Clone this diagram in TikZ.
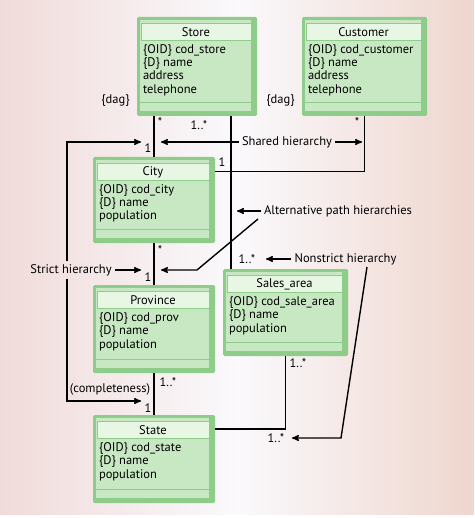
\documentclass[tikz,border=0pt]{standalone}
\usepackage{fontspec}
\setmainfont{PT Sans}
\usetikzlibrary{arrows,positioning,calc}
\definecolor{clsdark}{HTML}{8ECC8A}
\definecolor{clsbody}{HTML}{C8E8C3}
\definecolor{clstitle}{HTML}{E8F6E4}
\definecolor{bgleft}{HTML}{F0DBD9}
\definecolor{bgmid}{HTML}{FAF9FC}
\definecolor{bgright}{HTML}{EFD6CE}

% #1 name, #2 #3 centre, #4 width, #5 height, #6 title, #7 attributes
\newcommand{\umlclass}[7]{%
  \node[clsouter, minimum width=#4pt, minimum height=#5pt] (#1) at (#2,#3) {};
  \fill[clsbody] ($(#1.north west)+(3,3)$) rectangle ($(#1.south east)+(-6,-5)$);
  \node[clshead, minimum width=#4pt-10pt] (#1-head) at ($(#1.north)+(-1,15.5)$) {#6};
  \node[clsattr] (#1-attr) at ($(#1.north west)+(6,27.5)$) {#7};
  \draw[clsdark, line width=1.2pt] ($(#1.south west)+(3,-14)$) -- ($(#1.south east)+(-6,-14)$);
}

\begin{document}
\begin{tikzpicture}[x=1pt, y=-1pt, >=stealth', font=\fontsize{12.5}{13.3}\selectfont]
\tikzstyle{clsouter}=[fill=clsdark, rounded corners=1.5pt, inner sep=0pt]
\tikzstyle{clshead}=[fill=clstitle, draw=clsdark, line width=1pt, minimum height=17pt, inner sep=0pt]
\tikzstyle{clsattr}=[anchor=north west, align=left, inner sep=0pt]
\tikzstyle{mult}=[inner sep=1pt, font=\fontsize{12.3}{12}\selectfont]
\tikzstyle{lbl}=[inner sep=3pt]
\tikzstyle{assoc}=[-, line width=1.4pt]
\tikzstyle{hint}=[->, line width=1.4pt]

\useasboundingbox (0,0) rectangle (474,518);
\fill[white] (0,0) rectangle (474,518);
\shade[left color=bgleft, right color=bgmid] (0,0) rectangle (237,514);
\shade[left color=bgmid, right color=bgright] (237,0) rectangle (474,514);

\umlclass{store}{197}{66.5}{120}{99}{Store}{\{OID\} cod\_store\\\{D\} name\\address\\telephone}
\umlclass{customer}{364.5}{66.5}{125}{99}{Customer}{\{OID\} cod\_customer\\\{D\} name\\address\\telephone}
\umlclass{city}{154}{200}{122}{86}{City}{\{OID\} cod\_city\\\{D\} name\\population}
\umlclass{province}{154}{329}{122}{88}{Province}{\{OID\} cod\_prov\\\{D\} name\\population}
\umlclass{sales}{285.5}{312.5}{125}{87}{Sales\_area}{\{OID\} cod\_sale\_area\\\{D\} name\\population}
\umlclass{state}{154}{459}{122}{88}{State}{\{OID\} cod\_state\\\{D\} name\\population}

\node[lbl, anchor=east] (dagstore) at ($(store.south west)+(-4,-16)$) {\{dag\}};
\node[lbl, anchor=east] (dagcust)  at ($(customer.south west)+(-4,-16)$) {\{dag\}};

% associations
\coordinate (satop) at ($(sales.north west)+(8,0)$);
\coordinate (cityin) at ($(city.north east)+(0,15)$);
\coordinate (statein) at ($(state.north east)+(0,14)$);
\draw[assoc] (city.north |- store.south) -- (city.north);
\draw[assoc] (satop |- store.south) -- (satop);
\draw[assoc] (customer.south) |- (cityin);
\draw[assoc] (city.south) -- (province.north);
\draw[assoc] (province.south) -- (state.north);
\draw[assoc] (sales.south) |- (statein);

\node[mult] (m1) at (160,122) {*};
\node[mult] (m2) at (148,148) {1};
\node[mult] (m3) at (199,125) {1..*};
\node[mult] (m4) at (357,122) {*};
\node[mult] (m5) at (222,162) {1};
\node[mult] (m6) at (160,250) {*};
\node[mult] (m7) at (148,277) {1};
\node[mult] (m8) at (247,259) {1..*};
\node[mult] (m9) at (168,382) {1..*};
\node[mult] (m10) at (148,408) {1};
\node[mult] (m11) at (298,363) {1..*};
\node[mult] (m12) at (276,438) {1..*};

% hierarchy notes
\node[lbl] (shared) at (287,142) {Shared hierarchy};
\node[lbl] (strict) at (71,270) {Strict hierarchy};
\node[lbl] (alt) at (338,211) {Alternative path hierarchies};
\node[lbl] (nonstrict) at (345.5,259) {Nonstrict hierarchy};
\node[lbl, inner sep=1pt] (compl) at (110,389) {(completeness)};

\coordinate (shl) at (161,142);
\coordinate (shr) at (362,142);
\coordinate (sttop) at (67,142);
\coordinate (stbot) at (67,401);
\coordinate (sttip1) at (141,142);
\coordinate (sttip2) at (141,270);
\coordinate (sttip3) at (141,401);
\coordinate (altfrom) at (258,219);
\coordinate (altbend) at (197,270);
\coordinate (alttip1) at (237,211);
\coordinate (alttip2) at (161,270);
\coordinate (nsfrom) at (367,267);
\coordinate (nsbend) at (341,438);
\coordinate (nstip1) at (266,259);
\coordinate (nstip2) at (292,438);

\draw[hint] (shared.west) -- (shl);
\draw[hint] (shared.east) -- (shr);
\draw[hint] (strict.north -| sttop) -- (sttop) -- (sttip1);
\draw[hint] (strict.south -| stbot) -- (stbot) -- (sttip3);
\draw[hint] (strict.east) -- (sttip2);
\draw[hint] (alt.west) -- (alttip1);
\draw[hint] (altfrom) -- (altbend) -- (alttip2);
\draw[hint] (nonstrict.west) -- (nstip1);
\draw[hint] (nsfrom) -- (nsbend) -- (nstip2);
\end{tikzpicture}
\end{document}
